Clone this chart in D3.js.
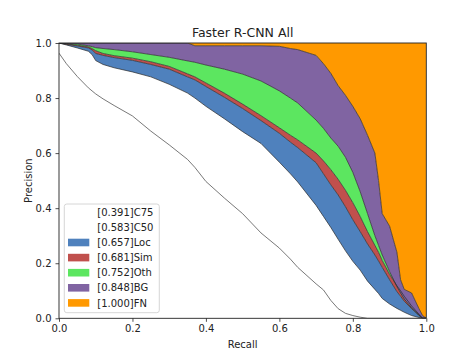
<!DOCTYPE html>
<html><head><meta charset="utf-8">
<script src="https://cdn.jsdelivr.net/npm/d3@7"></script>
<style>
body{margin:0;background:#fff}
svg{display:block}
text{font-family:"DejaVu Sans",sans-serif;fill:#222}
</style>
</head><body>
<svg id="c" width="474" height="358"></svg>
<script>
// ---- data ----
const title = "Faster R-CNN All";
const xLabel = "Recall";
const yLabel = "Precision";
const tickValues = [0, 0.2, 0.4, 0.6, 0.8, 1.0];

const recall = [0, 0.02, 0.05, 0.08, 0.09, 0.1, 0.12, 0.15, 0.2, 0.25, 0.3, 0.35, 0.37, 0.4, 0.45, 0.5, 0.55, 0.6, 0.63, 0.65, 0.7, 0.72, 0.74, 0.76, 0.78, 0.8, 0.82, 0.84, 0.86, 0.87, 0.88, 0.9, 0.92, 0.93, 0.94, 0.96, 0.98, 0.99, 1.0];

const c75 = [0.963, 0.925, 0.878, 0.837, 0.826, 0.815, 0.797, 0.773, 0.735, 0.68, 0.63, 0.577, 0.548, 0.497, 0.437, 0.38, 0.31, 0.255, 0.215, 0.185, 0.125, 0.103, 0.065, 0.035, 0.018, 0.01, 0.004, 0, 0, 0, 0, 0, 0, 0, 0, 0, 0, 0, 0];
const c50 = [1.0, 0.993, 0.982, 0.97, 0.958, 0.936, 0.922, 0.91, 0.895, 0.877, 0.85, 0.818, 0.8, 0.77, 0.725, 0.678, 0.635, 0.567, 0.525, 0.495, 0.41, 0.37, 0.33, 0.287, 0.245, 0.207, 0.175, 0.135, 0.105, 0.09, 0.072, 0.052, 0.036, 0.029, 0.022, 0.01, 0.003, 0, 0];
const loc = [1.0, 0.995, 0.989, 0.982, 0.975, 0.962, 0.955, 0.947, 0.937, 0.922, 0.905, 0.877, 0.866, 0.842, 0.803, 0.762, 0.718, 0.672, 0.64, 0.62, 0.565, 0.525, 0.485, 0.448, 0.405, 0.358, 0.315, 0.27, 0.23, 0.208, 0.185, 0.14, 0.097, 0.08, 0.062, 0.035, 0.012, 0, 0];
const sim = [1.0, 0.997, 0.992, 0.986, 0.98, 0.972, 0.962, 0.954, 0.945, 0.932, 0.915, 0.888, 0.877, 0.855, 0.818, 0.778, 0.736, 0.692, 0.665, 0.648, 0.6, 0.572, 0.54, 0.505, 0.465, 0.42, 0.37, 0.315, 0.265, 0.24, 0.21, 0.16, 0.118, 0.1, 0.08, 0.045, 0.015, 0, 0];
const oth = [1.0, 0.998, 0.996, 0.99, 0.987, 0.983, 0.98, 0.976, 0.968, 0.958, 0.948, 0.935, 0.93, 0.92, 0.905, 0.887, 0.862, 0.826, 0.8, 0.782, 0.72, 0.69, 0.655, 0.625, 0.585, 0.53, 0.46, 0.38, 0.3, 0.265, 0.23, 0.17, 0.115, 0.092, 0.07, 0.038, 0.01, 0, 0];
const bg  = [1.0, 1.0, 1.0, 1.0, 1.0, 1.0, 1.0, 1.0, 1.0, 1.0, 1.0, 1.0, 0.99, 0.99, 0.99, 0.99, 0.99, 0.988, 0.98, 0.976, 0.955, 0.925, 0.89, 0.845, 0.81, 0.77, 0.725, 0.665, 0.6, 0.5, 0.38, 0.335, 0.24, 0.14, 0.105, 0.092, 0.035, 0.01, 0];
const fn  = [1, 1, 1, 1, 1, 1, 1, 1, 1, 1, 1, 1, 1, 1, 1, 1, 1, 1, 1, 1, 1, 1, 1, 1, 1, 1, 1, 1, 1, 1, 1, 1, 1, 1, 1, 1, 1, 1, 1];

const seriesNames = ["[0.391]C75", "[0.583]C50", "[0.657]Loc", "[0.681]Sim", "[0.752]Oth", "[0.848]BG", "[1.000]FN"];
const seriesColors = ["#ffffff", "#ffffff", "#4f81bd", "#c0504d", "#5ce660", "#8064a2", "#ff9900"];

// ---- drawing ----
const svg = d3.select("#c");
const X0 = 59, X1 = 426.3, Y0 = 318.3, Y1 = 43;
const x = d3.scaleLinear().domain([0, 1]).range([X0, X1]);
const y = d3.scaleLinear().domain([0, 1]).range([Y0, Y1]);

svg.append("defs").append("clipPath").attr("id", "clip")
  .append("rect").attr("x", X0).attr("y", Y1).attr("width", X1 - X0).attr("height", Y0 - Y1);

const curves = [c75, c50, loc, sim, oth, bg, fn];
const g = svg.append("g").attr("clip-path", "url(#clip)");

const area = d3.area()
  .x(d => x(d.r))
  .y0(d => y(d.lo))
  .y1(d => y(d.hi));

curves.forEach((cur, k) => {
  const lower = k === 0 ? null : curves[k - 1];
  const rows = recall.map((r, i) => ({ r, lo: lower ? lower[i] : 0, hi: cur[i] }));
  g.append("path").attr("d", area(rows))
    .attr("fill", seriesColors[k]).attr("stroke", "none");
});

const line = d3.line().x(d => x(d.r)).y(d => y(d.p));
curves.slice(0, 6).forEach((cur, k) => {
  const rows = recall.map((r, i) => ({ r, p: cur[i] }));
  g.append("path").attr("d", line(rows))
    .attr("fill", "none")
    .attr("stroke", k === 0 ? "#555" : "#2a2a2a")
    .attr("stroke-width", k === 0 ? 0.8 : 0.7);
});

// axes
const fmt = d3.format(".1f");
const xAxis = svg.append("g").attr("transform", `translate(0,${Y0})`)
  .call(d3.axisBottom(x).tickValues(tickValues).tickFormat(fmt).tickSizeOuter(0).tickSize(3.5).tickPadding(3));
const yAxis = svg.append("g").attr("transform", `translate(${X0},0)`)
  .call(d3.axisLeft(y).tickValues(tickValues).tickFormat(fmt).tickSizeOuter(0).tickSize(3.5).tickPadding(4));
[xAxis, yAxis].forEach(a => {
  a.select(".domain").remove();
  a.selectAll("line").attr("stroke", "#222").attr("stroke-width", 0.8);
  a.selectAll("text").attr("font-size", 10).attr("font-family", "DejaVu Sans").attr("fill", "#222");
});

// frame
svg.append("rect").attr("x", X0).attr("y", Y1).attr("width", X1 - X0).attr("height", Y0 - Y1)
  .attr("fill", "none").attr("stroke", "#222").attr("stroke-width", 0.9);

// title and labels
svg.append("text").attr("x", (X0 + X1) / 2).attr("y", 37).attr("text-anchor", "middle")
  .attr("font-size", 12.5).text(title);
svg.append("text").attr("x", (X0 + X1) / 2).attr("y", 348).attr("text-anchor", "middle")
  .attr("font-size", 10).text(xLabel);
svg.append("text").attr("transform", `translate(32,${(Y0 + Y1) / 2}) rotate(-90)`)
  .attr("text-anchor", "middle").attr("font-size", 10).text(yLabel);

// legend
const lg = svg.append("g");
lg.append("rect").attr("x", 64.3).attr("y", 204).attr("width", 95).attr("height", 108.7)
  .attr("rx", 2.5).attr("fill", "#fff").attr("fill-opacity", 0.85)
  .attr("stroke", "#cccccc").attr("stroke-width", 0.8);
seriesNames.forEach((name, i) => {
  const cy = 212.3 + i * 15.1;
  lg.append("rect").attr("x", 68).attr("y", cy - 3.8).attr("width", 21.3).attr("height", 7.6)
    .attr("fill", seriesColors[i]);
  lg.append("text").attr("x", 97.3).attr("y", cy).attr("dy", "0.36em")
    .attr("font-size", 10).text(name);
});
</script>
</body></html>
